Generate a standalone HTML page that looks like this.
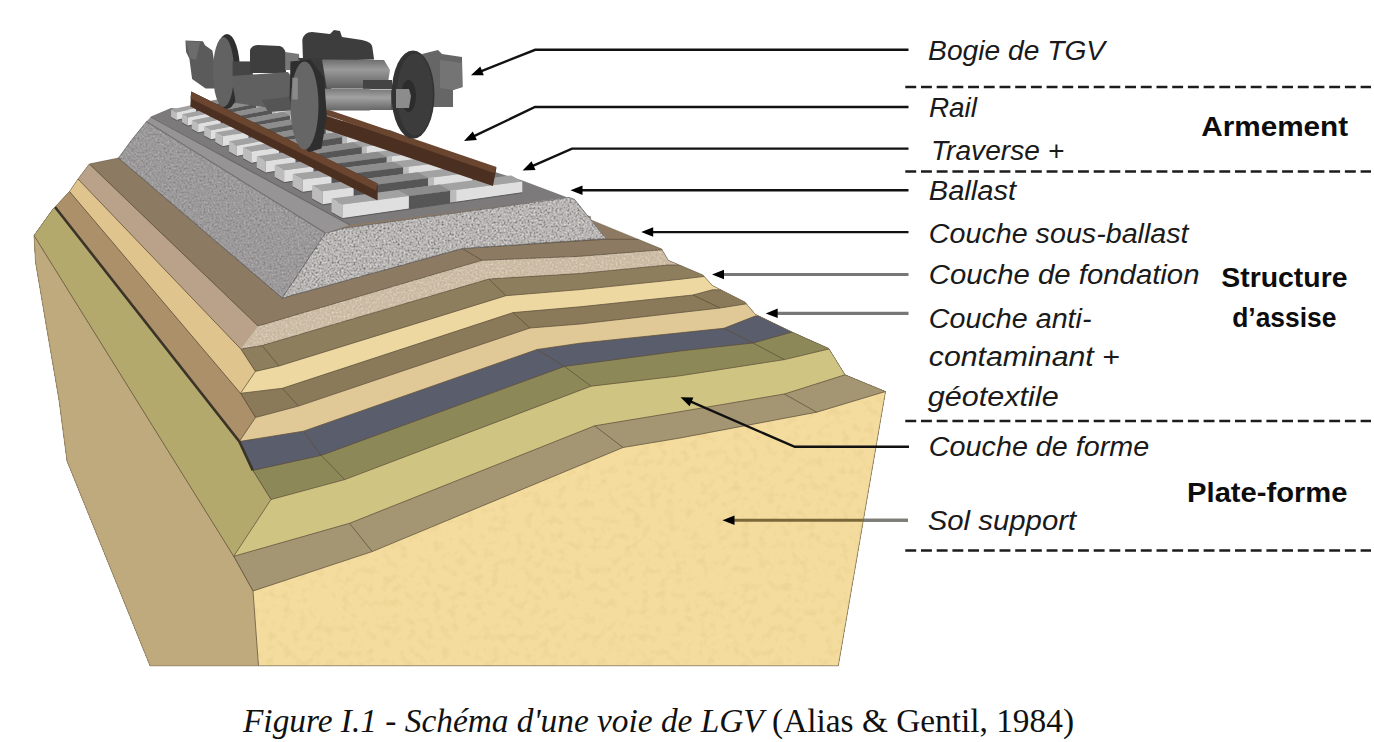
<!DOCTYPE html>
<html><head><meta charset="utf-8"><style>
html,body{margin:0;padding:0;background:#fff;}
body{width:1374px;height:742px;position:relative;overflow:hidden;}
svg{position:absolute;left:0;top:0;}
.lb{position:absolute;font-family:"Liberation Sans",sans-serif;font-style:italic;font-size:28.5px;color:#1e1e1e;white-space:nowrap;line-height:1;}
.bd{position:absolute;font-family:"Liberation Sans",sans-serif;font-weight:bold;font-size:28.5px;color:#111;white-space:nowrap;line-height:1;}
.cap{position:absolute;font-family:"Liberation Serif",serif;font-size:33px;color:#111;white-space:nowrap;line-height:1;}
</style></head><body>
<svg width="1374" height="742" viewBox="0 0 1374 742">
<defs>
<clipPath id="sil"><polygon points="118.5,158.0 300.0,150.0 590.6,216.6 590.6,219.8 661.7,249.0 668.2,260.3 680.0,265.3 702.8,274.9 712.4,285.5 744.8,302.0 755.3,314.3 792.5,332.3 828.8,348.5 845.0,374.8 885.5,391.5 838.3,665.8 150.0,665.8 67.0,461.0 59.0,400.0 47.0,330.0 35.5,262.0 34.0,235.5 53.0,209.0 55.0,207.0 69.5,191.5 78.0,179.0 89.3,164.0"/></clipPath>
<filter id="grain" x="0" y="0" width="100%" height="100%" color-interpolation-filters="sRGB">
<feTurbulence type="fractalNoise" baseFrequency="0.5" numOctaves="1" seed="7" result="n"/>
<feColorMatrix in="n" type="matrix" values="0 0 0 0 0  0 0 0 0 0  0 0 0 0 0  2.2 0 0 0 -0.95" result="dark"/>
<feComposite in="dark" in2="SourceGraphic" operator="in"/>
</filter>
<filter id="grainL" x="0" y="0" width="100%" height="100%" color-interpolation-filters="sRGB">
<feTurbulence type="fractalNoise" baseFrequency="0.5" numOctaves="1" seed="11" result="n"/>
<feColorMatrix in="n" type="matrix" values="0 0 0 0 1  0 0 0 0 1  0 0 0 0 1  0 2.4 0 0 -1.05" result="light"/>
<feComposite in="light" in2="SourceGraphic" operator="in"/>
</filter>
<filter id="mottle" x="0" y="0" width="100%" height="100%" color-interpolation-filters="sRGB">
<feTurbulence type="fractalNoise" baseFrequency="0.12" numOctaves="2" seed="5" result="n"/>
<feColorMatrix in="n" type="matrix" values="0 0 0 0 0.55  0 0 0 0 0.42  0 0 0 0 0.1  3 0 0 0 -1.5" result="m"/>
<feComposite in="m" in2="SourceGraphic" operator="in"/>
</filter>
</defs>
<g clip-path="url(#sil)">
<polygon points="118.5,158.0 300.0,150.0 590.6,216.6 590.6,219.8 661.7,249.0 668.2,260.3 680.0,265.3 702.8,274.9 712.4,285.5 744.8,302.0 755.3,314.3 792.5,332.3 828.8,348.5 845.0,374.8 885.5,391.5 838.3,665.8 150.0,665.8 67.0,461.0 59.0,400.0 47.0,330.0 35.5,262.0 34.0,235.5 53.0,209.0 55.0,207.0 69.5,191.5 78.0,179.0 89.3,164.0" fill="#8e7a62"/>
<polygon points="57.7,106.0 118.5,158.0 282.3,298.0 462.3,248.5 605.0,239.3 1100.0,239.3 1100.0,900.0 -300.0,900.0 -300.0,106.0" fill="#8c7a63" stroke="#5a4c38" stroke-width="0.9" stroke-opacity="0.8"/>
<polygon points="31.6,108.6 89.3,164.0 258.0,326.0 482.0,260.3 580.0,256.3 662.0,249.8 1100.0,249.8 1100.0,900.0 -300.0,900.0 -300.0,108.6" fill="#cdbca3" stroke="#5a4c38" stroke-width="0.9" stroke-opacity="0.8"/>
<polygon points="22.7,121.2 78.0,179.0 240.8,349.0 262.0,345.5 489.0,279.0 580.0,273.5 668.0,265.0 1100.0,265.0 1100.0,900.0 -300.0,900.0 -300.0,121.2" fill="#8d7e5e" stroke="#5a4c38" stroke-width="0.9" stroke-opacity="0.8"/>
<polygon points="22.7,121.2 78.0,179.0 240.8,349.0 255.4,371.4 279.0,366.0 506.0,295.7 580.0,289.6 680.0,279.3 703.0,276.6 1100.0,276.6 1100.0,900.0 -300.0,900.0 -300.0,121.2" fill="#eed8a1" stroke="#5a4c38" stroke-width="0.9" stroke-opacity="0.8"/>
<polygon points="17.8,130.5 69.5,191.5 240.5,393.3 282.3,388.3 513.0,312.6 580.0,306.8 693.0,295.0 712.4,289.8 1100.0,289.8 1100.0,900.0 -300.0,900.0 -300.0,130.5" fill="#8a7a5a" stroke="#5a4c38" stroke-width="0.9" stroke-opacity="0.8"/>
<polygon points="17.8,130.5 69.5,191.5 240.5,393.3 255.5,417.5 298.5,406.1 530.0,328.0 580.0,324.0 720.0,308.0 746.6,303.8 1100.0,303.8 1100.0,900.0 -300.0,900.0 -300.0,130.5" fill="#e0c897" stroke="#5a4c38" stroke-width="0.9" stroke-opacity="0.8"/>
<polygon points="5.6,144.1 55.0,207.0 239.3,441.5 303.4,431.2 537.0,349.5 580.0,343.2 723.8,328.3 755.3,316.0 1100.0,316.0 1100.0,900.0 -300.0,900.0 -300.0,144.1" fill="#5a5d6c" stroke="#5a4c38" stroke-width="0.9" stroke-opacity="0.8"/>
<polygon points="5.6,144.1 55.0,207.0 239.3,441.5 252.8,470.4 321.2,455.4 564.5,366.4 680.0,351.0 753.0,343.0 792.5,332.0 1100.0,332.0 1100.0,900.0 -300.0,900.0 -300.0,144.1" fill="#8d8858" stroke="#5a4c38" stroke-width="0.9" stroke-opacity="0.8"/>
<polygon points="5.6,144.1 55.0,207.0 239.3,441.5 252.8,470.4 271.0,499.5 344.7,479.6 591.0,386.2 680.0,375.8 784.4,359.6 828.8,349.0 1100.0,349.0 1100.0,900.0 -300.0,900.0 -300.0,144.1" fill="#d0c482" stroke="#5a4c38" stroke-width="0.9" stroke-opacity="0.8"/>
<polygon points="-8.3,167.6 34.0,235.5 233.7,556.3 349.5,523.3 594.7,425.8 680.0,411.7 784.4,394.0 845.0,374.8 1100.0,374.8 1100.0,900.0 -300.0,900.0 -300.0,167.6" fill="#a49673" stroke="#5a4c38" stroke-width="0.9" stroke-opacity="0.8"/>
<polygon points="-8.3,167.6 34.0,235.5 233.7,556.3 253.0,591.0 372.2,551.6 623.0,447.5 680.0,438.0 816.7,412.2 885.5,391.5 1100.0,391.5 1100.0,900.0 -300.0,900.0 -300.0,167.6" fill="#f4dc9e" stroke="#5a4c38" stroke-width="0.9" stroke-opacity="0.8"/>
<polygon points="89.3,164.0 258.0,326.0 240.8,349.0 78.0,179.0" fill="#b9a289"/>
<polygon points="78.0,179.0 240.8,349.0 255.4,371.4 240.5,393.3 69.5,191.5" fill="#e0c48d"/>
<polygon points="69.5,191.5 240.5,393.3 255.5,417.5 239.3,441.5 55.0,207.0" fill="#ab9069"/>
<polygon points="55.0,207.0 239.3,441.5 252.8,470.4 271.0,499.5 233.7,556.3 34.0,235.5" fill="#b4a96d"/>
<polygon points="34.0,235.5 233.7,556.3 253.0,591.0 258.5,665.8 150.0,665.8 67.0,461.0 59.0,400.0 47.0,330.0 35.5,262.0" fill="#beaa7d"/>
<polyline points="89.3,164.0 258.0,326.0" fill="none" stroke="#5a4c38" stroke-width="0.9" stroke-opacity="0.8"/>
<polyline points="78.0,179.0 240.8,349.0 255.4,371.4 240.5,393.3" fill="none" stroke="#5a4c38" stroke-width="0.9" stroke-opacity="0.8"/>
<polyline points="69.5,191.5 240.5,393.3 255.5,417.5 239.3,441.5" fill="none" stroke="#5a4c38" stroke-width="0.9" stroke-opacity="0.8"/>
<polyline points="34.0,235.5 233.7,556.3 253.0,591.0 258.5,665.8" fill="none" stroke="#5a4c38" stroke-width="0.9" stroke-opacity="0.8"/>
<polyline points="252.8,470.4 271.0,499.5 233.7,556.3" fill="none" stroke="#5a4c38" stroke-width="0.9" stroke-opacity="0.8"/>
<polyline points="55.0,207.0 239.3,441.5 252.8,470.4" fill="none" stroke="#3b3428" stroke-width="2.6"/>
<polygon points="258.0,326.0 482.0,260.3 580.0,256.3 662.0,249.8 668.0,265.0 580.0,273.5 489.0,279.0 262.0,345.5 262.0,345.5 240.8,349.0" fill="#000" filter="url(#grainL)" opacity="0.4"/>
<polygon points="258.0,326.0 482.0,260.3 580.0,256.3 662.0,249.8 668.0,265.0 580.0,273.5 489.0,279.0 262.0,345.5 262.0,345.5 240.8,349.0" fill="#000" filter="url(#grain)" opacity="0.08"/>
<polygon points="253.0,591.0 372.2,551.6 623.0,447.5 680.0,438.0 816.7,412.2 885.5,391.5 838.3,665.8 258.5,665.8" fill="#000" filter="url(#mottle)" opacity="0.06"/>
<polyline points="462.3,248.5 482.0,260.3" fill="none" stroke="#5a4c38" stroke-width="0.9" stroke-opacity="0.8"/>
<polyline points="262.0,345.5 279.0,366.0" fill="none" stroke="#5a4c38" stroke-width="0.9" stroke-opacity="0.8"/>
<polyline points="489.0,279.0 506.0,295.7" fill="none" stroke="#5a4c38" stroke-width="0.9" stroke-opacity="0.8"/>
<polyline points="282.3,388.3 298.5,406.1" fill="none" stroke="#5a4c38" stroke-width="0.9" stroke-opacity="0.8"/>
<polyline points="513.0,312.6 530.0,328.0" fill="none" stroke="#5a4c38" stroke-width="0.9" stroke-opacity="0.8"/>
<polyline points="693.0,295.0 720.0,308.0" fill="none" stroke="#5a4c38" stroke-width="0.9" stroke-opacity="0.8"/>
<polyline points="303.4,431.2 321.2,455.4" fill="none" stroke="#5a4c38" stroke-width="0.9" stroke-opacity="0.8"/>
<polyline points="537.0,349.5 564.5,366.4" fill="none" stroke="#5a4c38" stroke-width="0.9" stroke-opacity="0.8"/>
<polyline points="723.8,328.3 753.0,343.0" fill="none" stroke="#5a4c38" stroke-width="0.9" stroke-opacity="0.8"/>
<polyline points="321.2,455.4 344.7,479.6" fill="none" stroke="#5a4c38" stroke-width="0.9" stroke-opacity="0.8"/>
<polyline points="564.5,366.4 591.0,386.2" fill="none" stroke="#5a4c38" stroke-width="0.9" stroke-opacity="0.8"/>
<polyline points="753.0,343.0 784.4,359.6" fill="none" stroke="#5a4c38" stroke-width="0.9" stroke-opacity="0.8"/>
<polyline points="349.5,523.3 372.2,551.6" fill="none" stroke="#5a4c38" stroke-width="0.9" stroke-opacity="0.8"/>
<polyline points="594.7,425.8 623.0,447.5" fill="none" stroke="#5a4c38" stroke-width="0.9" stroke-opacity="0.8"/>
<polyline points="784.4,394.0 816.7,412.2" fill="none" stroke="#5a4c38" stroke-width="0.9" stroke-opacity="0.8"/>
</g>
<polygon points="118.5,158.0 300.0,150.0 590.6,216.6 590.6,219.8 661.7,249.0 668.2,260.3 680.0,265.3 702.8,274.9 712.4,285.5 744.8,302.0 755.3,314.3 792.5,332.3 828.8,348.5 845.0,374.8 885.5,391.5 838.3,665.8 150.0,665.8 67.0,461.0 59.0,400.0 47.0,330.0 35.5,262.0 34.0,235.5 53.0,209.0 55.0,207.0 69.5,191.5 78.0,179.0 89.3,164.0" fill="none" stroke="#6a5c48" stroke-width="0.8" stroke-opacity="0.7"/>
<polygon points="118.5,158.0 131.6,140.0 147.0,121.0 325.5,233.0 282.3,298.0" fill="#9e9b9d" stroke="#666" stroke-width="0.8"/>
<polygon points="325.5,233.0 345.0,228.0 569.0,197.5 574.4,199.3 605.9,238.6 462.3,248.5 282.3,298.0" fill="#bdbab8" stroke="#666" stroke-width="0.8"/>
<polygon points="118.5,158.0 131.6,140.0 147.0,121.0 325.5,233.0 282.3,298.0" fill="#000" filter="url(#grain)" opacity="0.22"/>
<polygon points="118.5,158.0 131.6,140.0 147.0,121.0 325.5,233.0 282.3,298.0" fill="#000" filter="url(#grainL)" opacity="0.22"/>
<polygon points="325.5,233.0 345.0,228.0 569.0,197.5 574.4,199.3 605.9,238.6 462.3,248.5 282.3,298.0" fill="#000" filter="url(#grain)" opacity="0.45"/>
<polygon points="325.5,233.0 345.0,228.0 569.0,197.5 574.4,199.3 605.9,238.6 462.3,248.5 282.3,298.0" fill="#000" filter="url(#grainL)" opacity="0.5"/>
<polygon points="151.0,116.5 171.0,108.0 390.0,130.0 496.5,172.5 522.4,180.6 574.2,200.0 569.0,197.5 350.0,225.0" fill="#7c7a7a"/>
<polygon points="147.0,121.0 151.0,116.5 350.0,225.0 325.5,233.0" fill="#979496"/>
<polyline points="151.0,117.0 350.0,225.0" fill="none" stroke="#6a6868" stroke-width="1.2"/>
<polyline points="147.0,122.0 325.5,233.0" fill="none" stroke="#747273" stroke-width="1.1"/>
<polygon points="176.3,112.4 264.0,93.6 258.8,90.7 171.1,109.5" fill="#a2a2a2"/>
<polygon points="176.3,112.4 264.0,93.6 264.0,100.0 176.3,120.4" fill="#dfdfdf"/>
<polygon points="176.3,112.4 171.1,109.5 171.1,117.5 176.3,120.4" fill="#bcbcbc"/>
<polygon points="196.0,108.2 240.0,98.7 234.8,95.8 190.8,105.2" fill="#8d8d8d"/>
<polygon points="196.0,108.2 240.0,98.7 240.0,105.6 196.0,115.8" fill="#565656"/>
<polygon points="240.0,98.7 242.9,98.1 242.9,104.9 240.0,105.6" fill="#bababa"/>
<polyline points="171.1,117.5 176.3,120.4 264.0,100.0" fill="none" stroke="#505050" stroke-width="0.9"/>
<polygon points="187.8,117.5 281.0,98.7 275.2,95.4 182.0,114.2" fill="#a2a2a2"/>
<polygon points="187.8,117.5 281.0,98.7 281.0,105.5 187.8,126.0" fill="#dfdfdf"/>
<polygon points="187.8,117.5 182.0,114.2 182.0,122.8 187.8,126.0" fill="#bcbcbc"/>
<polygon points="209.8,113.0 256.0,103.7 250.2,100.5 204.0,109.8" fill="#8d8d8d"/>
<polygon points="209.8,113.0 256.0,103.7 256.0,111.0 209.8,121.2" fill="#565656"/>
<polygon points="256.0,103.7 259.2,103.1 259.2,110.3 256.0,111.0" fill="#bababa"/>
<polyline points="182.0,122.8 187.8,126.0 281.0,105.5" fill="none" stroke="#505050" stroke-width="0.9"/>
<polygon points="198.1,123.8 299.0,104.2 292.7,100.7 191.8,120.3" fill="#a2a2a2"/>
<polygon points="198.1,123.8 299.0,104.2 299.0,111.5 198.1,132.9" fill="#dfdfdf"/>
<polygon points="198.1,123.8 191.8,120.3 191.8,129.4 198.1,132.9" fill="#bcbcbc"/>
<polygon points="220.8,119.4 272.0,109.5 265.7,106.0 214.5,115.9" fill="#8d8d8d"/>
<polygon points="220.8,119.4 272.0,109.5 272.0,117.2 220.8,128.1" fill="#565656"/>
<polygon points="272.0,109.5 275.4,108.8 275.4,116.5 272.0,117.2" fill="#bababa"/>
<polyline points="191.8,129.4 198.1,132.9 299.0,111.5" fill="none" stroke="#505050" stroke-width="0.9"/>
<polygon points="211.0,130.2 318.0,110.3 311.2,106.5 204.2,126.4" fill="#a2a2a2"/>
<polygon points="211.0,130.2 318.0,110.3 318.0,118.0 211.0,139.8" fill="#dfdfdf"/>
<polygon points="211.0,130.2 204.2,126.4 204.2,136.0 211.0,139.8" fill="#bcbcbc"/>
<polygon points="234.7,125.8 290.0,115.5 283.2,111.7 227.9,122.0" fill="#8d8d8d"/>
<polygon points="234.7,125.8 290.0,115.5 290.0,123.7 234.7,135.0" fill="#565656"/>
<polygon points="290.0,115.5 293.7,114.8 293.7,122.9 290.0,123.7" fill="#bababa"/>
<polyline points="204.2,136.0 211.0,139.8 318.0,118.0" fill="none" stroke="#505050" stroke-width="0.9"/>
<polygon points="222.6,136.5 338.0,116.9 330.7,112.8 215.3,132.4" fill="#a2a2a2"/>
<polygon points="222.6,136.5 338.0,116.9 338.0,125.0 222.6,146.7" fill="#dfdfdf"/>
<polygon points="222.6,136.5 215.3,132.4 215.3,142.6 222.6,146.7" fill="#bcbcbc"/>
<polygon points="248.5,132.1 308.0,122.0 300.7,117.9 241.2,128.0" fill="#8d8d8d"/>
<polygon points="248.5,132.1 308.0,122.0 308.0,130.6 248.5,141.8" fill="#565656"/>
<polygon points="308.0,122.0 312.0,121.3 312.0,129.9 308.0,130.6" fill="#bababa"/>
<polyline points="215.3,142.6 222.6,146.7 338.0,125.0" fill="none" stroke="#505050" stroke-width="0.9"/>
<polygon points="236.9,145.7 359.1,123.7 351.3,119.3 229.1,141.3" fill="#a2a2a2"/>
<polygon points="236.9,145.7 359.1,123.7 359.1,132.3 236.9,156.4" fill="#dfdfdf"/>
<polygon points="236.9,145.7 229.1,141.3 229.1,152.0 236.9,156.4" fill="#bcbcbc"/>
<polygon points="265.0,140.6 325.9,129.7 318.1,125.3 257.2,136.3" fill="#8d8d8d"/>
<polygon points="265.0,140.6 325.9,129.7 325.9,138.8 265.0,150.9" fill="#565656"/>
<polygon points="325.9,129.7 330.2,128.9 330.2,138.0 325.9,138.8" fill="#bababa"/>
<polyline points="229.1,152.0 236.9,156.4 359.1,132.3" fill="none" stroke="#505050" stroke-width="0.9"/>
<polygon points="251.3,152.0 381.2,130.8 372.9,126.1 243.0,147.4" fill="#a2a2a2"/>
<polygon points="251.3,152.0 381.2,130.8 381.2,139.8 251.3,163.3" fill="#dfdfdf"/>
<polygon points="251.3,152.0 243.0,147.4 243.0,158.6 251.3,163.3" fill="#bcbcbc"/>
<polygon points="279.0,147.5 342.5,137.1 334.2,132.5 270.7,142.8" fill="#8d8d8d"/>
<polygon points="279.0,147.5 342.5,137.1 342.5,146.8 279.0,158.3" fill="#565656"/>
<polygon points="342.5,137.1 347.1,136.4 347.1,146.0 342.5,146.8" fill="#bababa"/>
<polyline points="243.0,158.6 251.3,163.3 381.2,139.8" fill="none" stroke="#505050" stroke-width="0.9"/>
<polygon points="265.6,161.2 403.4,141.0 394.6,136.1 256.8,156.2" fill="#a2a2a2"/>
<polygon points="265.6,161.2 403.4,141.0 403.4,150.5 265.6,173.0" fill="#dfdfdf"/>
<polygon points="265.6,161.2 256.8,156.2 256.8,168.1 265.6,173.0" fill="#bcbcbc"/>
<polygon points="295.5,156.8 361.9,147.1 353.1,142.2 286.7,151.9" fill="#8d8d8d"/>
<polygon points="295.5,156.8 361.9,147.1 361.9,157.3 295.5,168.1" fill="#565656"/>
<polygon points="361.9,147.1 366.8,146.4 366.8,156.5 361.9,157.3" fill="#bababa"/>
<polyline points="256.8,168.1 265.6,173.0 403.4,150.5" fill="none" stroke="#505050" stroke-width="0.9"/>
<polygon points="284.1,170.2 425.5,152.0 416.1,146.8 274.7,165.0" fill="#a2a2a2"/>
<polygon points="284.1,170.2 425.5,152.0 425.5,161.9 284.1,182.6" fill="#dfdfdf"/>
<polygon points="284.1,170.2 274.7,165.0 274.7,177.4 284.1,182.6" fill="#bcbcbc"/>
<polygon points="313.5,166.4 386.8,157.0 377.4,151.8 304.1,161.2" fill="#8d8d8d"/>
<polygon points="313.5,166.4 386.8,157.0 386.8,167.6 313.5,178.3" fill="#565656"/>
<polygon points="386.8,157.0 392.0,156.3 392.0,166.8 386.8,167.6" fill="#bababa"/>
<polyline points="274.7,177.4 284.1,182.6 425.5,161.9" fill="none" stroke="#505050" stroke-width="0.9"/>
<polygon points="302.5,179.4 447.6,161.9 437.7,156.3 292.6,173.9" fill="#a2a2a2"/>
<polygon points="302.5,179.4 447.6,161.9 447.6,172.2 302.5,192.3" fill="#dfdfdf"/>
<polygon points="302.5,179.4 292.6,173.9 292.6,186.8 302.5,192.3" fill="#bcbcbc"/>
<polygon points="331.5,175.9 403.4,167.2 393.5,161.7 321.6,170.4" fill="#8d8d8d"/>
<polygon points="331.5,175.9 403.4,167.2 403.4,178.3 331.5,188.3" fill="#565656"/>
<polygon points="403.4,167.2 408.8,166.6 408.8,177.6 403.4,178.3" fill="#bababa"/>
<polyline points="292.6,186.8 302.5,192.3 447.6,172.2" fill="none" stroke="#505050" stroke-width="0.9"/>
<polygon points="322.5,191.3 472.5,172.5 462.1,166.7 312.1,185.5" fill="#a2a2a2"/>
<polygon points="322.5,191.3 472.5,172.5 472.5,183.3 322.5,204.8" fill="#dfdfdf"/>
<polygon points="322.5,191.3 312.1,185.5 312.1,199.0 322.5,204.8" fill="#bcbcbc"/>
<polygon points="353.6,187.4 428.3,178.1 417.9,172.3 343.2,181.6" fill="#8d8d8d"/>
<polygon points="353.6,187.4 428.3,178.1 428.3,189.6 353.6,200.3" fill="#565656"/>
<polygon points="428.3,178.1 434.0,177.4 434.0,188.8 428.3,189.6" fill="#bababa"/>
<polyline points="312.1,199.0 322.5,204.8 472.5,183.3" fill="none" stroke="#505050" stroke-width="0.9"/>
<polygon points="342.4,204.6 522.3,181.5 511.4,175.4 331.5,198.5" fill="#a2a2a2"/>
<polygon points="342.4,204.6 522.3,181.5 522.3,192.7 342.4,218.6" fill="#dfdfdf"/>
<polygon points="342.4,204.6 331.5,198.5 331.5,212.5 342.4,218.6" fill="#bcbcbc"/>
<polygon points="408.9,196.1 450.4,190.7 439.5,184.6 398.0,190.0" fill="#8d8d8d"/>
<polygon points="408.9,196.1 450.4,190.7 450.4,203.1 408.9,209.0" fill="#565656"/>
<polygon points="450.4,190.7 456.4,190.0 456.4,202.2 450.4,203.1" fill="#bababa"/>
<polyline points="331.5,212.5 342.4,218.6 522.3,192.7" fill="none" stroke="#505050" stroke-width="0.9"/>
<polygon points="191.2,91.5 377.6,183.5 377.6,200.5 190.3,106.5" fill="#4b2f20"/>
<polygon points="191.2,91.5 377.6,183.5 376.0,190.5 190.5,98.5" fill="#6a4530"/>
<polygon points="300.0,108.0 496.5,167.7 493.0,186.0 300.0,121.0" fill="#4b2f20"/>
<polygon points="300.0,100.0 496.5,166.9 494.0,173.0 300.0,106.0" fill="#6a4530"/>
<defs><linearGradient id="cyl" x1="0" y1="0" x2="0" y2="1"><stop offset="0" stop-color="#6e6e6e"/><stop offset="0.35" stop-color="#9a9a9a"/><stop offset="1" stop-color="#5e5e5e"/></linearGradient><linearGradient id="axl" x1="0" y1="0" x2="0" y2="1"><stop offset="0" stop-color="#7a7a7a"/><stop offset="0.4" stop-color="#a2a2a2"/><stop offset="1" stop-color="#666"/></linearGradient></defs>
<polygon points="185.4,40.5 202.9,41.2 205.0,45.2 212.4,50.6 216.4,76.2 214.4,88.4 205.6,88.4 192.1,78.9 189.4,58.7 186.1,52.0" fill="#5b5b5b"/>
<polygon points="186.0,41.0 200.0,42.0 196.0,60.0 190.0,58.0" fill="#6c6c6c"/>
<ellipse cx="227" cy="71.5" rx="13" ry="37.5" fill="#2f2f2f"/>
<ellipse cx="223.5" cy="72" rx="10.5" ry="35" fill="#626262"/>
<polygon points="232.6,61.4 252.8,61.4 252.8,78.9 232.6,78.9" fill="#454545"/>
<path d="M250,50 Q252,45 258,45 L280,46 Q285,48 286,54 L286,73 L250,73 Z" fill="#3e3e3e"/>
<polygon points="285.2,52.0 299.0,54.0 300.0,70.0 285.2,70.0" fill="#787878"/>
<polygon points="231.0,76.0 288.0,72.0 298.0,86.0 296.0,104.0 270.0,108.0 236.0,103.0" fill="#606060"/>
<polygon points="262.0,100.0 296.0,96.0 298.0,110.0 268.0,112.0" fill="#555"/>
<path d="M303,61.4 L302.3,40 Q304,32 312,32 L330,34 L334,30 L340,31 L342,37 L362,40 Q372,42 372.3,47 L374.1,59.5 Z" fill="#3d3d3d"/>
<polygon points="298.0,58.0 326.0,58.0 334.0,75.0 330.0,95.0 318.0,95.0" fill="#3a3a3a"/>
<polygon points="322.0,59.5 384.0,60.0 390.0,70.0 387.0,88.6 326.8,88.6" fill="url(#cyl)"/>
<polygon points="363.0,80.0 392.0,80.0 392.0,89.0 363.0,89.0" fill="#444"/>
<rect x="322" y="88.6" width="48" height="21.9" fill="url(#axl)"/>
<rect x="370" y="89.5" width="22" height="20.5" fill="url(#axl)"/>
<rect x="391" y="90" width="15" height="20" fill="#585858"/>
<polygon points="290.5,61.4 310.5,59.5 324.1,77.7 326.8,115.9 321.4,148.6 308.6,152.3 294.1,134.1 289.5,97.7" fill="#2e2e2e"/>
<ellipse cx="304.5" cy="105.5" rx="14" ry="44" fill="#666"/>
<rect x="292.3" y="77.7" width="5.5" height="21.8" fill="#8a8a8a"/>
<polygon points="422.0,54.0 438.0,50.0 442.0,54.0 462.0,57.0 462.5,87.0 453.0,90.0 453.0,107.0 433.0,107.0 426.0,90.0" fill="#666"/>
<polygon points="440.0,60.0 462.0,63.0 462.5,87.0 453.0,90.0 440.0,88.0" fill="#747474"/>
<ellipse cx="413" cy="94.6" rx="21.5" ry="44.2" fill="#333"/>
<ellipse cx="415" cy="94.6" rx="18" ry="41" fill="#3c3c3c"/>
<ellipse cx="408.5" cy="96" rx="7.5" ry="16" fill="#2c2c2c"/>
<polygon points="396.0,89.0 409.0,89.0 411.0,96.0 409.0,108.0 396.0,108.0" fill="#8c8c8c"/>
<polyline points="908.5,49.8 535.2,49.8 480.2,71.6" fill="none" stroke="#111" stroke-width="2.4" stroke-linejoin="miter"/>
<polygon points="470.9,75.3 480.3,66.5 483.8,75.3" fill="#000"/>
<polyline points="908.5,107.0 535.0,107.0 473.0,136.7" fill="none" stroke="#111" stroke-width="2.4" stroke-linejoin="miter"/>
<polygon points="464.0,141.0 472.8,131.5 476.9,140.1" fill="#000"/>
<polyline points="908.5,148.6 572.0,148.6 531.7,166.4" fill="none" stroke="#111" stroke-width="2.4" stroke-linejoin="miter"/>
<polygon points="522.6,170.5 531.6,161.3 535.5,170.0" fill="#000"/>
<polyline points="908.5,190.2 580.5,190.2" fill="none" stroke="#111" stroke-width="2.4" stroke-linejoin="miter"/>
<polygon points="570.5,190.2 582.5,185.4 582.5,194.9" fill="#000"/>
<polyline points="908.5,232.1 651.2,232.1" fill="none" stroke="#111" stroke-width="2.4" stroke-linejoin="miter"/>
<polygon points="641.2,232.1 653.2,227.3 653.2,236.8" fill="#000"/>
<polyline points="908.5,274.5 722.0,274.5" fill="none" stroke="#777" stroke-width="3.1" stroke-linejoin="miter"/>
<polygon points="712.0,274.5 724.0,269.8 724.0,279.2" fill="#000"/>
<polyline points="908.5,313.4 775.7,313.4" fill="none" stroke="#777" stroke-width="3.1" stroke-linejoin="miter"/>
<polygon points="765.7,313.4 777.7,308.6 777.7,318.1" fill="#000"/>
<polyline points="909.0,446.8 794.8,446.8 689.7,401.2" fill="none" stroke="#111" stroke-width="2.4" stroke-linejoin="miter"/>
<polygon points="680.5,397.2 693.4,397.6 689.6,406.3" fill="#000"/>
<polyline points="908.0,520.3 732.5,520.3" fill="none" stroke="#7a6838" stroke-width="3.1" stroke-linejoin="miter"/>
<polygon points="722.5,520.3 734.5,515.5 734.5,525.0" fill="#000"/>
<line x1="863.5" y1="520.3" x2="908" y2="520.3" stroke="#7c7c7c" stroke-width="3.1"/>
<line x1="905.3" y1="87" x2="1371" y2="87" stroke="#1c1c1c" stroke-width="2.5" stroke-dasharray="10.9 4.8"/>
<line x1="905.3" y1="171.5" x2="1371" y2="171.5" stroke="#1c1c1c" stroke-width="2.5" stroke-dasharray="10.9 4.8"/>
<line x1="905.3" y1="421" x2="1371" y2="421" stroke="#1c1c1c" stroke-width="2.5" stroke-dasharray="10.9 4.8"/>
<line x1="905.3" y1="550.6" x2="1371" y2="550.6" stroke="#1c1c1c" stroke-width="2.5" stroke-dasharray="10.9 4.8"/>
<text x="928.1" y="59.9" textLength="177.0" lengthAdjust="spacingAndGlyphs" font-family="Liberation Sans" font-style="italic" font-size="27" fill="#1a1a1a">Bogie de TGV</text>
<text x="928.9" y="117.0" textLength="48.1" lengthAdjust="spacingAndGlyphs" font-family="Liberation Sans" font-style="italic" font-size="27" fill="#1a1a1a">Rail</text>
<text x="931.0" y="159.9" textLength="133.2" lengthAdjust="spacingAndGlyphs" font-family="Liberation Sans" font-style="italic" font-size="27" fill="#1a1a1a">Traverse +</text>
<text x="928.8" y="200.3" textLength="87.3" lengthAdjust="spacingAndGlyphs" font-family="Liberation Sans" font-style="italic" font-size="27" fill="#1a1a1a">Ballast</text>
<text x="928.8" y="242.8" textLength="259.8" lengthAdjust="spacingAndGlyphs" font-family="Liberation Sans" font-style="italic" font-size="27" fill="#1a1a1a">Couche sous-ballast</text>
<text x="928.8" y="284.2" textLength="270.7" lengthAdjust="spacingAndGlyphs" font-family="Liberation Sans" font-style="italic" font-size="27" fill="#1a1a1a">Couche de fondation</text>
<text x="928.8" y="327.8" textLength="162.7" lengthAdjust="spacingAndGlyphs" font-family="Liberation Sans" font-style="italic" font-size="27" fill="#1a1a1a">Couche anti-</text>
<text x="928.8" y="366.0" textLength="191.0" lengthAdjust="spacingAndGlyphs" font-family="Liberation Sans" font-style="italic" font-size="27" fill="#1a1a1a">contaminant +</text>
<text x="927.7" y="406.4" textLength="131.0" lengthAdjust="spacingAndGlyphs" font-family="Liberation Sans" font-style="italic" font-size="27" fill="#1a1a1a">géotextile</text>
<text x="928.8" y="456.0" textLength="220.5" lengthAdjust="spacingAndGlyphs" font-family="Liberation Sans" font-style="italic" font-size="27" fill="#1a1a1a">Couche de forme</text>
<text x="927.7" y="530.3" textLength="148.5" lengthAdjust="spacingAndGlyphs" font-family="Liberation Sans" font-style="italic" font-size="27" fill="#1a1a1a">Sol support</text>
<text x="1201.2" y="135.9" textLength="147.0" lengthAdjust="spacingAndGlyphs" font-family="Liberation Sans" font-weight="bold" font-size="27" fill="#0d0d0d">Armement</text>
<text x="1221.3" y="287.1" textLength="126.2" lengthAdjust="spacingAndGlyphs" font-family="Liberation Sans" font-weight="bold" font-size="27" fill="#0d0d0d">Structure</text>
<text x="1232.2" y="327.1" textLength="104.3" lengthAdjust="spacingAndGlyphs" font-family="Liberation Sans" font-weight="bold" font-size="27" fill="#0d0d0d">d’assise</text>
<text x="1187.1" y="501.5" textLength="160.4" lengthAdjust="spacingAndGlyphs" font-family="Liberation Sans" font-weight="bold" font-size="27" fill="#0d0d0d">Plate-forme</text>
<text x="243" y="731.6" font-family="Liberation Serif" font-size="33" fill="#111" textLength="831" lengthAdjust="spacingAndGlyphs"><tspan font-style="italic">Figure I.1 - Schéma d'une voie de LGV</tspan> (Alias &amp; Gentil, 1984)</text>
</svg>
</body></html>
